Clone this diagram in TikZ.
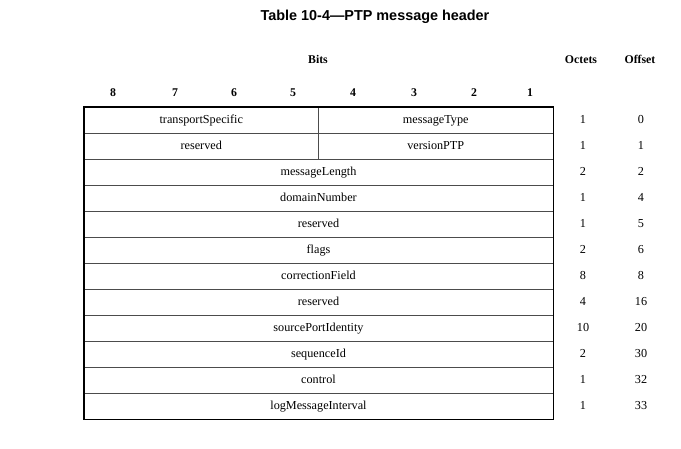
\documentclass[tikz,border=0pt]{standalone}
\usepackage{fontspec}
\setmainfont{Liberation Serif}
\newfontfamily\titlefont{Liberation Sans}
\usetikzlibrary{positioning}

\begin{document}
\begin{tikzpicture}[x=1pt, y=-1pt,
    every node/.style={text height=9pt, text depth=2pt, font=\fontsize{12.2}{14}\selectfont},
    field/.style={draw=black!70, line width=0.6pt, minimum height=26pt, inner sep=0pt},
    full/.style={field, minimum width=469pt},
    half/.style={field, minimum width=234.5pt},
    head/.style={font=\fontsize{11.8}{14}\selectfont\bfseries}]
        \useasboundingbox (0, 0) rectangle (681, 448);
        \node[font=\titlefont\fontsize{14.4}{17}\selectfont\bfseries] (title) at (375, 17) {Table 10-4—PTP message header};

        % column heads
        \node[head] (bits) at (318, 60) {Bits};
        \node[head] (octets) at (581, 60) {Octets};
        \node[head] (offset) at (640, 60) {Offset};
        \node[head] (b8) at (113, 93) {8};
        \node[head] (b7) at (175, 93) {7};
        \node[head] (b6) at (234, 93) {6};
        \node[head] (b5) at (293, 93) {5};
        \node[head] (b4) at (353, 93) {4};
        \node[head] (b3) at (414, 93) {3};
        \node[head] (b2) at (474, 93) {2};
        \node[head] (b1) at (530, 93) {1};

        % fields
        \node[half] (ts) at (201.25, 120) {transportSpecific};
        \node[half] (mt) at (435.75, 120) {messageType};
        \node[half] (rsvA) at (201.25, 146) {reserved};
        \node[half] (ver) at (435.75, 146) {versionPTP};
        \node[full] (ml) at (318.5, 172) {messageLength};
        \node[full] (dn) at (318.5, 198) {domainNumber};
        \node[full] (rsvB) at (318.5, 224) {reserved};
        \node[full] (fl) at (318.5, 250) {flags};
        \node[full] (cf) at (318.5, 276) {correctionField};
        \node[full] (rsvC) at (318.5, 302) {reserved};
        \node[full] (spi) at (318.5, 328) {sourcePortIdentity};
        \node[full] (sid) at (318.5, 354) {sequenceId};
        \node[full] (ctl) at (318.5, 380) {control};
        \node[full] (lmi) at (318.5, 406) {logMessageInterval};
        \draw[line width=1.6pt] (ts.north west) rectangle (lmi.south east);

        % octets and offsets
        \node (oc0) at (583, 120) {1};   \node (of0) at (641, 120) {0};
        \node (oc1) at (583, 146) {1};   \node (of1) at (641, 146) {1};
        \node (oc2) at (583, 172) {2};   \node (of2) at (641, 172) {2};
        \node (oc3) at (583, 198) {1};   \node (of3) at (641, 198) {4};
        \node (oc4) at (583, 224) {1};   \node (of4) at (641, 224) {5};
        \node (oc5) at (583, 250) {2};   \node (of5) at (641, 250) {6};
        \node (oc6) at (583, 276) {8};   \node (of6) at (641, 276) {8};
        \node (oc7) at (583, 302) {4};   \node (of7) at (641, 302) {16};
        \node (oc8) at (583, 328) {10};  \node (of8) at (641, 328) {20};
        \node (oc9) at (583, 354) {2};   \node (of9) at (641, 354) {30};
        \node (oc10) at (583, 380) {1};  \node (of10) at (641, 380) {32};
        \node (oc11) at (583, 406) {1};  \node (of11) at (641, 406) {33};
\end{tikzpicture}
\end{document}
